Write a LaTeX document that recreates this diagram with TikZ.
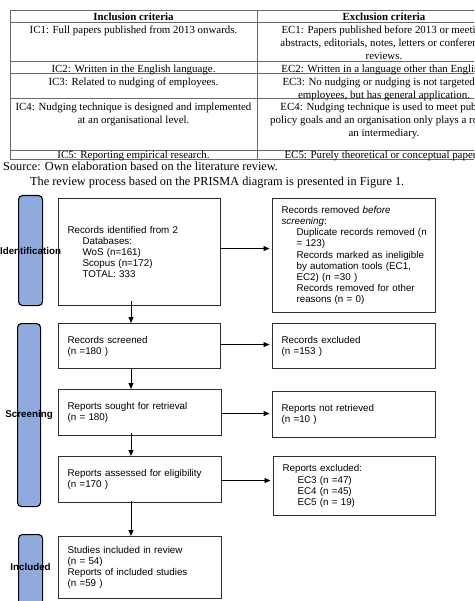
\documentclass[tikz,border=0pt]{standalone}
\usepackage{fontspec}
\setmainfont{Liberation Serif}
\newfontfamily\arialf{Liberation Sans}
\usetikzlibrary{arrows.meta}
\definecolor{barblue}{RGB}{143,170,220}
\definecolor{tline}{RGB}{105,105,105}
\definecolor{bline}{RGB}{45,45,45}
\begin{document}
\begin{tikzpicture}[x=1pt,y=-1pt,
  tabtxt/.style={font=\fontsize{10.9}{12.9}\selectfont, inner sep=0pt, align=center, anchor=base},
  bodytxt/.style={font=\fontsize{12.3}{14}\selectfont, inner sep=0pt, anchor=base west},
  flowbox/.style={draw=bline, line width=1.1pt, anchor=north west, inner xsep=9pt, inner ysep=0pt, align=left, font=\arialf\fontsize{9.8}{11.1}\selectfont},
  bar/.style={draw=black, line width=1.1pt, fill=barblue, rounded corners=4pt, anchor=north west, inner sep=0pt},
  barlabel/.style={font=\arialf\bfseries\fontsize{9.8}{11}\selectfont, inner sep=0pt},
  arr/.style={-{Triangle[length=6pt,width=5pt]}, line width=0.9pt, draw=black}
]
\useasboundingbox (0,0) rectangle (474,601);
\clip (0,0) rectangle (474,601);

% ---- table ----
\draw[tline, line width=1pt]
  (10,11) -- (509,11) (10,23) -- (509,23) (10,62) -- (509,62) (10,74) -- (509,74)
  (10,99) -- (509,99) (10,151) -- (509,151) (10,160) -- (509,160)
  (10,11) -- (10,160) (257,11) -- (257,160);

% multi-line cells are placed at the baseline of their last line
\node[tabtxt, font=\bfseries\fontsize{10.9}{12.9}\selectfont] (h1) at (133.5,20.3) {Inclusion criteria};
\node[tabtxt, font=\bfseries\fontsize{10.9}{12.9}\selectfont] (h2) at (384,20.3) {Exclusion criteria};
\node[tabtxt] (ic1) at (133.5,33.7) {IC1: Full papers published from 2013 onwards.};
\node[tabtxt] (ec1) at (384,59.5) {EC1: Papers published before 2013 or meeting\\abstracts, editorials, notes, letters or conference\\reviews.};
\node[tabtxt] (ic2) at (133.5,72.7) {IC2: Written in the English language.};
\node[tabtxt] (ec2) at (384,72.7) {EC2: Written in a language other than English.};
\node[tabtxt] (ic3) at (133.5,85.7) {IC3: Related to nudging of employees.};
\node[tabtxt] (ec3) at (384,98.6) {EC3: No nudging or nudging is not targeted at\\employees, but has general application.};
\node[tabtxt] (ic4) at (133.5,123.6) {IC4: Nudging technique is designed and implemented\\at an organisational level.};
\node[tabtxt] (ec4) at (384,136.5) {EC4: Nudging technique is used to meet public\\policy goals and an organisation only plays a role as\\an intermediary.};
\node[tabtxt] (ic5) at (133.5,158.6) {IC5: Reporting empirical research.};
\node[tabtxt] (ec5) at (384,158.6) {EC5: Purely theoretical or conceptual papers.};

\node[bodytxt] (src) at (3,171) {Source: Own elaboration based on the literature review.};
\node[bodytxt] (intro) at (30,186) {The review process based on the PRISMA diagram is presented in Figure 1.};

% ---- phase bars ----
\node[bar, minimum width=24pt, minimum height=110pt] (bar1) at (18,195) {};
\node[bar, minimum width=23pt, minimum height=183pt] (bar2) at (17,323) {};
\node[bar, minimum width=24pt, minimum height=80pt] (bar3) at (18,534) {};
\node[barlabel] (lab1) at (bar1.center) {Identification};
\node[barlabel] (lab2) at (bar2.center |- 0,415) {Screening};
\node[barlabel] (lab3) at (bar3.center |- 0,567) {Included};

% ---- flow boxes ----
\node[flowbox, minimum width=162pt, minimum height=107pt, text width=144pt] (b1) at (58,198)
  {Records identified from 2\\\hspace*{15pt}Databases:\\\hspace*{15pt}WoS (n=161)\\\hspace*{15pt}Scopus (n=172)\\\hspace*{15pt}TOTAL: 333};
\node[flowbox, minimum width=163pt, minimum height=114pt, text width=145pt] (b2) at (272,198)
  {Records removed \textit{before}\\\textit{screening}:\\\hspace*{15pt}\mbox{Duplicate records removed (n}\\\hspace*{15pt}= 123)\\\hspace*{15pt}\mbox{Records marked as ineligible}\\\hspace*{15pt}by automation tools (EC1,\\\hspace*{15pt}EC2) (n =30 )\\\hspace*{15pt}Records removed for other\\\hspace*{15pt}reasons (n = 0)};
\node[flowbox, minimum width=162pt, minimum height=45pt, text width=144pt] (b3) at (58,323)
  {Records screened\\(n =180 )};
\node[flowbox, minimum width=163pt, minimum height=45pt, text width=145pt] (b4) at (272,323)
  {Records excluded\\(n =153 )};
\node[flowbox, minimum width=163pt, minimum height=46pt, text width=145pt] (b5) at (58,389)
  {Reports sought for retrieval\\(n = 180)};
\node[flowbox, minimum width=163pt, minimum height=46pt, text width=145pt] (b6) at (272,391)
  {Reports not retrieved\\(n =10 )};
\node[flowbox, minimum width=163pt, minimum height=46pt, text width=145pt] (b7) at (58,456)
  {Reports assessed for eligibility\\(n =170 )};
\node[flowbox, minimum width=162pt, minimum height=59pt, text width=144pt] (b8) at (273,456)
  {Reports excluded:\\\hspace*{15pt}EC3 (n =47)\\\hspace*{15pt}EC4 (n =45)\\\hspace*{15pt}EC5 (n = 19)};
\node[flowbox, minimum width=163pt, minimum height=62pt, text width=145pt] (b9) at (58,536)
  {Studies included in review\\(n = 54)\\Reports of included studies\\(n =59 )};

% ---- connectors ----
\draw[arr, shorten >=2.5pt] ([yshift=3.5pt]b1.east) -- ([yshift=3.5pt]b1.east -| b2.west);
\draw[arr] ([xshift=73pt,yshift=5pt]b1.south west) -- ([xshift=73pt]b3.north west);
\draw[arr, shorten >=2.5pt] ([yshift=1.5pt]b3.east) -- ([yshift=1.5pt]b3.east -| b4.west);
\draw[arr] ([xshift=73pt]b3.south west) -- ([xshift=73pt]b5.north west);
\draw[arr, shorten >=2.5pt] ([yshift=-1pt]b5.east) -- ([yshift=-1pt]b5.east -| b6.west);
\draw[arr] ([xshift=73pt,yshift=3pt]b5.south west) -- ([xshift=73pt]b7.north west);
\draw[arr, shorten >=2.5pt] ([yshift=-1pt]b7.east) -- ([yshift=-1pt]b7.east -| b8.west);
\draw[arr] ([xshift=73pt,yshift=2pt]b7.south west) -- ([xshift=73pt]b9.north west);
\end{tikzpicture}
\end{document}
